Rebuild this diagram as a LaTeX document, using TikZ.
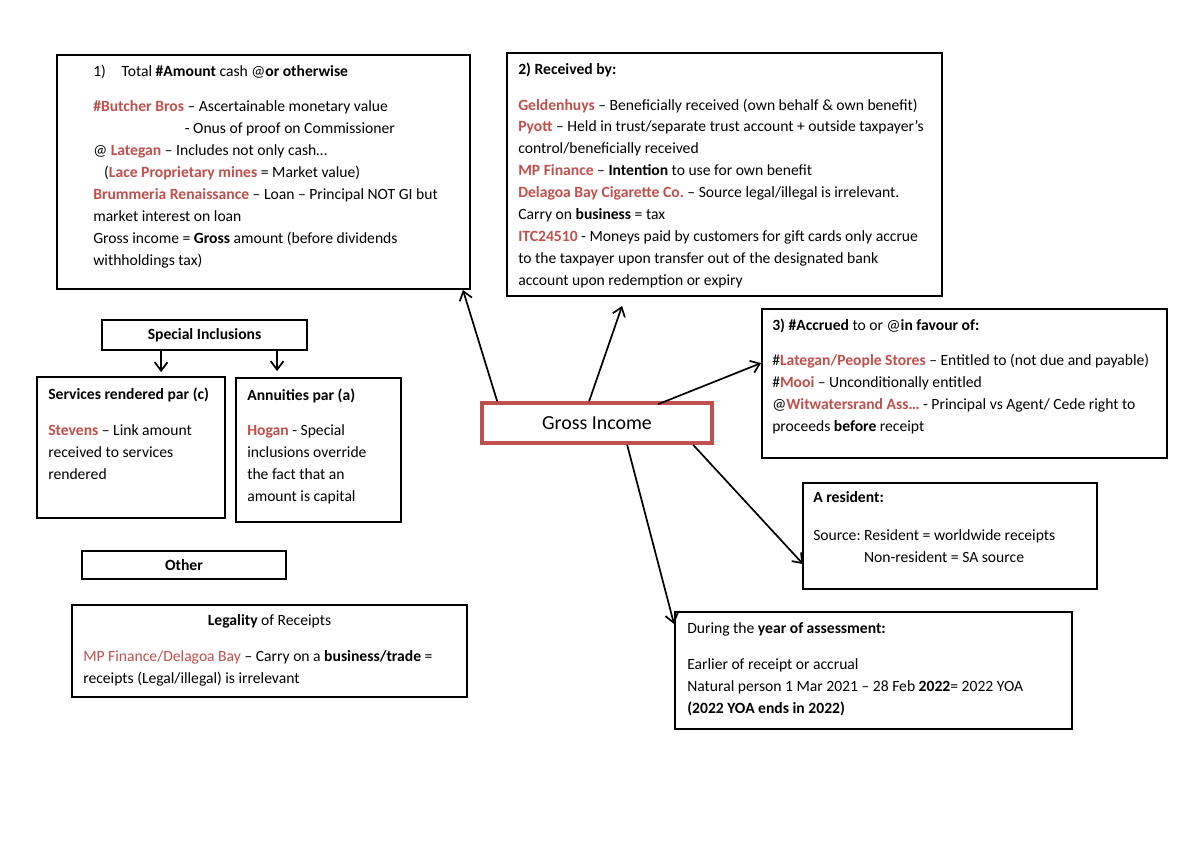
\documentclass[tikz,border=0pt]{standalone}
\usepackage{fontspec}
\setmainfont{Carlito}
\usetikzlibrary{calc,fit,arrows.meta}
\definecolor{caseRed}{HTML}{C0504D}
\newcommand{\ruling}[1]{\textcolor{caseRed}{\textbf{#1}}}

\begin{document}
\begin{tikzpicture}[x=0.02475cm, y=-0.02475cm,
  box/.style={draw, line width=1.3pt, inner sep=0pt},
  head/.style={draw, line width=1.3pt, inner sep=0pt, font=\fontsize{11}{13}\selectfont\bfseries},
  txt/.style={anchor=base west, align=left, inner sep=0pt, font=\fontsize{11}{15.4}\selectfont\frenchspacing},
  link/.style={->, line width=1.2pt, >={Straight Barb[length=6pt,width=9pt]}}]
  \useasboundingbox[fill=white] (0,0) rectangle (1200,849);

  % boxes
  \node[box, fit={(57,55) (470,289)}] (amount) {};
  \node[box, fit={(507,53) (942,296)}] (received) {};
  \node[box, fit={(762,309) (1167,458)}] (accrued) {};
  \node[head, minimum width=5.074cm, minimum height=0.7425cm] (special) at (204.5,335) {Special Inclusions};
  \node[box, fit={(37,377) (225,518)}] (services) {};
  \node[box, fit={(236,378) (401,522)}] (annuities) {};
  \node[head, minimum width=5.049cm, minimum height=0.693cm] (other) at (184,565) {Other};
  \node[box, fit={(72,605) (467,697)}] (legality) {};
  \node[box, fit={(803,483) (1097,589)}] (resident) {};
  \node[box, fit={(675,612) (1072,729)}] (yoa) {};
  \node[draw=caseRed, line width=2.6pt, inner sep=0pt, minimum width=5.693cm, minimum height=0.99cm,
        font=\fontsize{14}{16}\selectfont] (gross) at (597,423) {Gross Income};

  % texts (anchored on the last line)
  \node[txt] (amountTxt) at (93,265) {1)\hspace{11pt}Total \textbf{\#Amount} cash @\textbf{or otherwise}\\[9.5pt]
    \ruling{\#Butcher Bros} – Ascertainable monetary value\\
    \hspace*{64.5pt}- Onus of proof on Commissioner\\
    @ \ruling{Lategan} – Includes not only cash…\\
    \hspace*{7.7pt}(\ruling{Lace Proprietary mines} = Market value)\\
    \ruling{Brummeria Renaissance} – Loan – Principal NOT GI but\\
    market interest on loan\\
    Gross income = \textbf{Gross} amount (before dividends\\
    withholdings tax)};
  \node[txt] (receivedTxt) at (518,285) {\textbf{2) Received by:}\\[9.5pt]
    \ruling{Geldenhuys} – Beneficially received (own behalf \& own benefit)\\
    \ruling{Pyott} – Held in trust/separate trust account + outside taxpayer’s\\
    control/beneficially received\\
    \ruling{MP Finance} – \textbf{Intention} to use for own benefit\\
    \ruling{Delagoa Bay Cigarette Co.} – Source legal/illegal is irrelevant.\\
    Carry on \textbf{business} = tax\\
    \ruling{ITC24510} - Moneys paid by customers for gift cards only accrue\\
    to the taxpayer upon transfer out of the designated bank\\
    account upon redemption or expiry};
  \node[txt] (accruedTxt) at (772,431) {\textbf{3) \#Accrued} to or @\textbf{in favour of:}\\[9.5pt]
    \#\ruling{Lategan/People Stores} – Entitled to (not due and payable)\\
    \#\ruling{Mooi} – Unconditionally entitled\\
    @\ruling{Witwatersrand Ass…} - Principal vs Agent/ Cede right to\\
    proceeds \textbf{before} receipt};
  \node[txt] (servicesTxt) at (48,479) {\textbf{Services rendered par (c)}\\[9.5pt]
    \ruling{Stevens} – Link amount\\
    received to services\\
    rendered};
  \node[txt] (annuitiesTxt) at (247,501) {\textbf{Annuities par (a)}\\[9.5pt]
    \ruling{Hogan} - Special\\
    inclusions override\\
    the fact that an\\
    amount is capital};
  \node[txt, anchor=base] (legalityHead) at (269.5,625) {\textbf{Legality} of Receipts};
  \node[txt] (legalityTxt) at (83,683) {\textcolor{caseRed}{MP Finance/Delagoa Bay} – Carry on a \textbf{business/trade} =\\
    receipts (Legal/illegal) is irrelevant};
  \node[txt] (residentTxt) at (813,562) {\textbf{A resident:}\\[11pt]
    Source: Resident = worldwide receipts\\
    \hspace*{35.8pt}Non-resident = SA source};
  \node[txt] (yoaTxt) at (687,713) {During the \textbf{year of assessment:}\\[9.5pt]
    Earlier of receipt or accrual\\
    Natural person 1 Mar 2021 – 28 Feb \textbf{2022}= 2022 YOA\\
    \textbf{(2022 YOA ends in 2022)}};

  % arrows
  \draw[link] ($(gross.north west)+(17,0)$) -- ($(amount.south east)+(-8,0)$);
  \draw[link] ($(gross.north west)+(109,0)$) -- ($(received.south west)+(116,9)$);
  \draw[link] ($(gross.north west)+(178,3)$) -- ($(accrued.north west)+(0,55)$);
  \draw[link] ($(gross.south west)+(213,0)$) -- ($(resident.north west)+(1,82)$);
  \draw[link] ($(gross.south west)+(147,0)$) -- ($(yoa.north west)+(0,13)$);
  \draw[link] ($(special.south west)+(60,0)$) -- ($(services.north west)+(125,-4)$);
  \draw[link] ($(special.south west)+(176,0)$) -- ($(annuities.north west)+(42,-6)$);
\end{tikzpicture}
\end{document}
